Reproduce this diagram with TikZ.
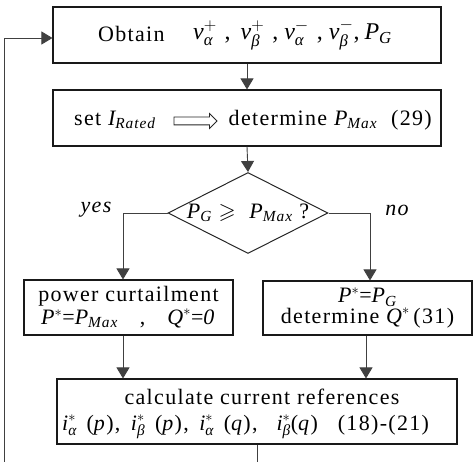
\documentclass[tikz,border=0pt]{standalone}
\usepackage{amsmath,amssymb}
\usepackage{fontspec}
\setmainfont{Liberation Serif}[LetterSpace=6]
\usetikzlibrary{shapes.geometric,shapes.arrows,arrows.meta,calc}
\newcommand{\iv}[1]{\textit{#1}}
\tikzset{
  box/.style={draw=black!90, line width=1.1pt, rectangle, inner sep=0pt, align=center,
    font=\fontsize{22}{25}\selectfont},
  txt/.style={inner sep=0pt, font=\fontsize{22}{25}\selectfont},
  conn/.style={draw=black!75, line width=0.9pt},
  arr/.style={conn, -{Triangle[length=11pt,width=13pt]}},
}
\begin{document}
\begin{tikzpicture}[x=1pt,y=-1pt]
\useasboundingbox (0,0) rectangle (474,462);
% boxes
\node[box, minimum width=388pt, minimum height=56pt] (b1) at (247,35) {};
\node[txt, anchor=west] (t1a) at (98,34) {Obtain};
\node[txt, anchor=east, font=\fontsize{24}{26}\selectfont] (t1b) at (392,35)
  {$\iv{v}^{+}_{\iv{α}}$\,\,,\hspace{10pt}$\iv{v}^{+}_{\iv{β}}$\,\,,\hspace{6pt}$\iv{v}^{-}_{\iv{α}}$\,\,,\hspace{6pt}$\iv{v}^{-}_{\iv{β}}$,\hspace{5pt}$\iv{P}_{\iv{G}}$};
\node[box, minimum width=388pt, minimum height=56pt] (b2) at (247,118) {};
\node[txt, anchor=west] (t2a) at (74,120) {set $\iv{I}_{\iv{Rated}}$};
\node[single arrow, draw=black!85, line width=0.8pt, minimum height=43pt,
  inner sep=3.5pt, single arrow head extend=3.5pt] (ha) at (193.5,121) {};
\node[txt, anchor=east] (t2b) at (432,120) {determine $\iv{P}_{\iv{Max}}$\hspace{14pt}(29)};
\node[diamond, draw=black!85, line width=1pt, minimum width=160pt, minimum height=81pt,
  inner sep=0pt, aspect=2, font=\fontsize{22}{25}\selectfont] (d) at (248,213)
  {$\iv{P}_{\iv{G}}$ $\geqslant$ \ $\iv{P}_{\iv{Max}}$ ?};
\node[txt, font=\fontsize{22}{25}\selectfont\itshape] (yes) at (96,210) {yes};
\node[txt, font=\fontsize{22}{25}\selectfont\itshape] (no) at (397,210) {no};
\node[box, minimum width=209pt, minimum height=55pt] (lb) at (128.5,307.5)
  {power curtailment\\[-2pt] $\iv{P}^{*}$=$\iv{P}_{\iv{Max}}$\quad ,\quad $\iv{Q}^{*}$=\iv{0}};
\node[box, minimum width=209pt, minimum height=54pt] (rb) at (367.5,308)
  {$\iv{P}^{*}$=$\iv{P}_{\iv{G}}$\\[-4pt] determine $\iv{Q}^{*}$\,(31)};
\node[box, minimum width=400pt, minimum height=65pt] (bb) at (257,411.5) {};
\node[txt] (t5a) at (262,397) {calculate current references};
\node[txt, anchor=west] (t5b) at (62,427)
  {$\iv{i}^{*}_{\iv{α}}$\;\,(\iv{p}),\, $\iv{i}^{*}_{\iv{β}}$\;\,(\iv{p}),\, $\iv{i}^{*}_{\iv{α}}$\;\,(\iv{q}),\;\; $\iv{i}^{*}_{\iv{β}}$(\iv{q})\hspace{20pt}(18)-(21)};
\coordinate (bot) at (257,462);
\coordinate (loop) at (4,462);
% connectors
\draw[arr] (b1.south) -- (b2.north);
\draw[arr] (b2.south) -- (d.north);
\draw[arr] (d.west) -| ($(lb.north)+(-5.5,0)$);
\draw[arr] (d.east) -| ($(rb.north)+(2.5,0)$);
\draw[arr] ($(lb.south)+(-5.5,0)$) -- ($(bb.north)+(-134,0)$);
\draw[arr] ($(rb.south)+(-1.5,0)$) -- ($(bb.north)+(109,0)$);
\draw[conn] (bb.south) -- (bot);
\draw[arr] (loop) |- ($(b1.west)+(0,3)$);
\end{tikzpicture}
\end{document}
